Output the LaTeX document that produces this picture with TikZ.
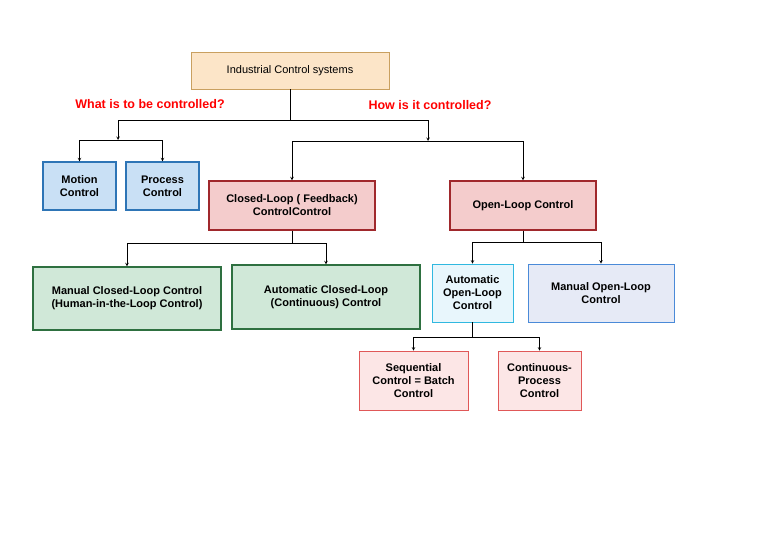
\documentclass[tikz,border=0pt]{standalone}
\usepackage{fontspec}
\setmainfont{Liberation Sans}
\usetikzlibrary{positioning}
\definecolor{orfill}{HTML}{FCE5C8}
\definecolor{ordraw}{HTML}{C9A060}
\definecolor{bfill}{HTML}{C9E0F5}
\definecolor{bdraw}{HTML}{2E75B6}
\definecolor{rfill}{HTML}{F4CCCC}
\definecolor{rdraw}{HTML}{A0282C}
\definecolor{gfill}{HTML}{D0E8D8}
\definecolor{gdraw}{HTML}{2E7040}
\definecolor{cfill}{HTML}{E8F6FC}
\definecolor{cdraw}{HTML}{30B8E0}
\definecolor{lfill}{HTML}{E6EAF6}
\definecolor{ldraw}{HTML}{4A8AD8}
\definecolor{pfill}{HTML}{FCE6E6}
\definecolor{pdraw}{HTML}{E05858}
\tikzset{
  box/.style={draw, align=center, inner sep=2pt, font=\fontsize{11}{13}\selectfont\bfseries},
  bluebox/.style={box, fill=bfill, draw=bdraw, line width=1.2pt},
  redbox/.style={box, fill=rfill, draw=rdraw, line width=1.2pt},
  greenbox/.style={box, fill=gfill, draw=gdraw, line width=1.2pt},
  cyanbox/.style={box, fill=cfill, draw=cdraw, line width=0.6pt},
  lavbox/.style={box, fill=lfill, draw=ldraw, line width=0.6pt},
  pinkbox/.style={box, fill=pfill, draw=pdraw, line width=0.6pt},
  link/.style={draw, line width=0.6pt},
  arr/.style={link, -stealth},
  question/.style={text=red, font=\fontsize{12.5}{14}\selectfont\bfseries}
}
\begin{document}
\begin{tikzpicture}[x=1pt,y=-1pt]
    \useasboundingbox (0,0) rectangle (768,543);
    % Boxes
    \node[box, font=\fontsize{11}{13}\selectfont, fill=orfill, draw=ordraw, minimum width=198pt, minimum height=37pt] (ics) at (290,70.5) {Industrial Control systems};
    \node[question] (what) at (150,104) {What is to be controlled?};
    \node[question] (how) at (430,105) {How is it controlled?};
    \node[bluebox, minimum width=73pt, minimum height=48pt] (motion) at (79.5,186) {Motion\\Control};
    \node[bluebox, minimum width=73pt, minimum height=48pt] (process) at (162.5,186) {Process\\Control};
    \node[redbox, minimum width=166pt, minimum height=49pt] (closed) at (292,205.5) {Closed-Loop ( Feedback)\\ControlControl};
    \node[redbox, minimum width=146pt, minimum height=49pt] (open) at (523,205.5) {Open-Loop Control};
    \node[greenbox, minimum width=188pt, minimum height=63pt] (mclosed) at (127,298.5) {Manual Closed-Loop Control\\(Human-in-the-Loop Control)};
    \node[greenbox, minimum width=188pt, minimum height=64pt] (aclosed) at (326,297) {Automatic Closed-Loop\\(Continuous) Control};
    \node[cyanbox, minimum width=81pt, minimum height=58pt] (aopen) at (472.5,293) {Automatic\\Open-Loop\\Control};
    \node[lavbox, minimum width=146pt, minimum height=58pt] (mopen) at (601,293) {Manual Open-Loop\\Control};
    \node[pinkbox, minimum width=109pt, minimum height=59pt] (seq) at (413.5,380.5) {Sequential\\Control = Batch\\Control};
    \node[pinkbox, minimum width=83pt, minimum height=59pt] (cont) at (539.5,380.5) {Continuous-\\Process\\Control};

    % Junctions
    \coordinate (j0) at (290,120);
    \coordinate (jl) at (118,120);
    \coordinate (jr) at (428,120);
    \coordinate (jl2) at (118,140);
    \coordinate (jr2) at (428,141);
    \coordinate (jc) at (292,243);
    \coordinate (jo) at (523,242);
    \coordinate (ja) at (472.5,337);

    % Connectors
    \path[link] (ics) -- (j0) (jl) -- (jr);
    \path[arr] (jl) -- (jl2);
    \path[arr] (jr) -- (jr2);
    \path[arr] (jl2) -| (motion);
    \path[arr] (jl2) -| (process);
    \path[arr] (jr2) -| (closed);
    \path[arr] (jr2) -| (open);
    \path[link] (closed) -- (jc);
    \path[arr] (jc) -| (mclosed);
    \path[arr] (jc) -| (aclosed);
    \path[link] (open) -- (jo);
    \path[arr] (jo) -| (aopen);
    \path[arr] (jo) -| (mopen);
    \path[link] (aopen) -- (ja);
    \path[arr] (ja) -| (seq);
    \path[arr] (ja) -| (cont);
\end{tikzpicture}
\end{document}
